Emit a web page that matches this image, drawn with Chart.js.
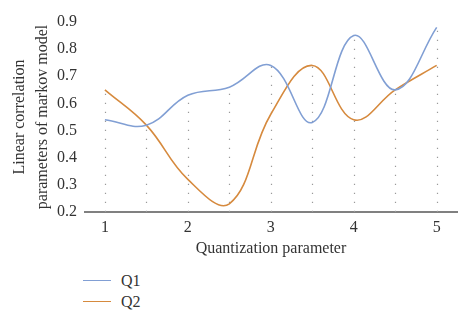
<!DOCTYPE html>
<html>
<head>
<meta charset="utf-8">
<script src="https://cdn.jsdelivr.net/npm/chart.js@4"></script>
<style>
  body { margin: 0; background: #fff; }
  #wrap { position: relative; width: 474px; height: 327px; }
  #box { position: absolute; left: 0; top: 0; width: 474px; height: 262px; }
  #legend { position: absolute; left: 83px; top: 270px; font-family: 'Liberation Serif', serif; font-size: 16px; color: #333; }
  .item { display: flex; align-items: center; height: 21px; }
  .swatch { width: 28px; height: 0; border-top: 1.5px solid; margin-right: 10px; }
</style>
</head>
<body>
<div id="wrap">
  <div id="box"><canvas id="chart"></canvas></div>
  <div id="legend"></div>
</div>
<script>
// Valores
const xValues = [1, 1.5, 2, 2.5, 3, 3.5, 4, 4.5, 5];
const q1Values = [0.54, 0.52, 0.63, 0.66, 0.74, 0.53, 0.85, 0.65, 0.88];
const q2Values = [0.65, 0.52, 0.32, 0.23, 0.56, 0.74, 0.54, 0.65, 0.74];
const xTicks = [1, 2, 3, 4, 5];
const seriesNames = ['Q1', 'Q2'];
const seriesColors = ['#819fd4', '#d68a3e'];

const serif = "'Liberation Serif', 'DejaVu Serif', serif";

// linhas pontilhadas verticais do ponto mais alto até o eixo
const dropLines = {
  id: 'dropLines',
  beforeDatasetsDraw(chart) {
    const { ctx, scales: { x, y } } = chart;
    ctx.save();
    ctx.strokeStyle = '#9a9a9a';
    ctx.lineWidth = 1.2;
    ctx.setLineDash([1.2, 7.8]);
    xValues.forEach((xv, i) => {
      const px = Math.round(x.getPixelForValue(xv)) + 0.5;
      const top = y.getPixelForValue(Math.max(q1Values[i], q2Values[i]));
      ctx.beginPath();
      ctx.moveTo(px, y.getPixelForValue(y.min));
      ctx.lineTo(px, top);
      ctx.stroke();
    });
    ctx.restore();
  }
};

const toPoints = vals => xValues.map((xv, i) => ({ x: xv, y: vals[i] }));

const chart = new Chart(document.getElementById('chart'), {
  type: 'line',
  data: {
    datasets: [q1Values, q2Values].map((vals, i) => ({
      label: seriesNames[i],
      data: toPoints(vals),
      borderColor: seriesColors[i],
      borderWidth: 1.6,
      pointRadius: 0,
      tension: 0.4,
      fill: false
    }))
  },
  options: {
    responsive: true,
    maintainAspectRatio: false,
    animation: false,
    layout: { padding: { left: 9, right: 17, top: 22, bottom: 0 } },
    plugins: { legend: { display: false }, tooltip: { enabled: false } },
    scales: {
      x: {
        type: 'linear',
        min: 0.76,
        max: 5.245,
        afterBuildTicks: s => { s.ticks = xTicks.map(v => ({ value: v })); },
        afterFit: s => { s.height = 50; },
        grid: { display: false, drawTicks: false },
        border: { color: '#808080', width: 2 },
        ticks: { padding: 6, color: '#333', font: { family: serif, size: 16 } },
        title: {
          display: true,
          text: 'Quantization parameter',
          color: '#333',
          font: { family: serif, size: 16 },
          padding: { top: 0, bottom: 4 }
        }
      },
      y: {
        min: 0.2,
        max: 0.9,
        afterFit: s => { s.width = 76; },
        grid: { display: false, drawTicks: false },
        border: { display: false },
        ticks: {
          stepSize: 0.1,
          padding: 8,
          color: '#333',
          font: { family: serif, size: 16 },
          callback: v => v.toFixed(1)
        },
        title: {
          display: true,
          text: ['Linear correlation', 'parameters of markov model'],
          color: '#333',
          font: { family: serif, size: 16, lineHeight: 1.4 },
          padding: 0
        }
      }
    }
  },
  plugins: [dropLines]
});

// legenda vertical em HTML
const legend = document.getElementById('legend');
seriesNames.forEach((name, i) => {
  const item = document.createElement('div');
  item.className = 'item';
  item.innerHTML = '<span class="swatch" style="border-color:' + seriesColors[i] + '"></span>' + name;
  legend.appendChild(item);
});
</script>
</body>
</html>
